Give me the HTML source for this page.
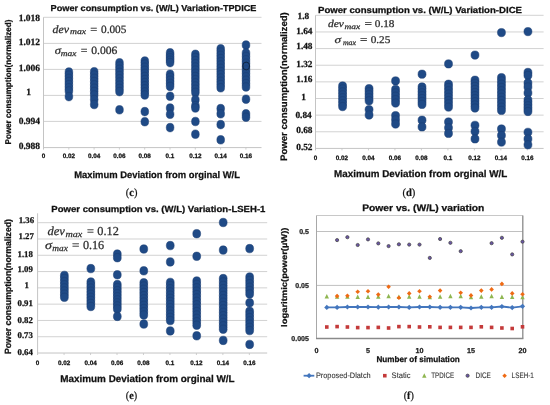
<!DOCTYPE html>
<html><head><meta charset="utf-8"><title>Power consumption charts</title>
<style>html,body{margin:0;padding:0;background:#fff;width:550px;height:405px;overflow:hidden}svg{display:block;filter:blur(0.3px)}text{text-rendering:geometricPrecision}</style>
</head><body>
<svg width="550" height="405" viewBox="0 0 550 405">
<rect width="550" height="405" fill="#ffffff"/>
<line x1="43.50" y1="17.30" x2="261.50" y2="17.30" stroke="#d2d2d2" stroke-width="1"/>
<line x1="43.50" y1="43.40" x2="261.50" y2="43.40" stroke="#d2d2d2" stroke-width="1"/>
<line x1="43.50" y1="69.40" x2="261.50" y2="69.40" stroke="#d2d2d2" stroke-width="1"/>
<line x1="43.50" y1="95.40" x2="261.50" y2="95.40" stroke="#d2d2d2" stroke-width="1"/>
<line x1="43.50" y1="121.40" x2="261.50" y2="121.40" stroke="#d2d2d2" stroke-width="1"/>
<line x1="43.50" y1="147.60" x2="261.50" y2="147.60" stroke="#c4c4c4" stroke-width="1"/>
<line x1="43.50" y1="17.30" x2="43.50" y2="149.60" stroke="#c4c4c4" stroke-width="1"/>
<text x="29.40" y="20.90" font-size="9.5" font-family="'Liberation Serif', serif" fill="#111" stroke="#111" stroke-width="0.25" font-weight="bold" text-anchor="middle">1.018</text>
<text x="29.40" y="45.40" font-size="9.5" font-family="'Liberation Serif', serif" fill="#111" stroke="#111" stroke-width="0.25" font-weight="bold" text-anchor="middle">1.012</text>
<text x="29.40" y="70.80" font-size="9.5" font-family="'Liberation Serif', serif" fill="#111" stroke="#111" stroke-width="0.25" font-weight="bold" text-anchor="middle">1.006</text>
<text x="28.50" y="95.20" font-size="9.5" font-family="'Liberation Serif', serif" fill="#111" stroke="#111" stroke-width="0.25" font-weight="bold" text-anchor="middle">1</text>
<text x="29.40" y="123.90" font-size="9.5" font-family="'Liberation Serif', serif" fill="#111" stroke="#111" stroke-width="0.25" font-weight="bold" text-anchor="middle">0.994</text>
<text x="29.40" y="148.80" font-size="9.5" font-family="'Liberation Serif', serif" fill="#111" stroke="#111" stroke-width="0.25" font-weight="bold" text-anchor="middle">0.988</text>
<text x="43.50" y="158.20" font-size="6.3" font-family="'Liberation Sans', sans-serif" fill="#111" stroke="#111" stroke-width="0.25" font-weight="bold" text-anchor="middle">0</text>
<text x="68.80" y="158.20" font-size="6.3" font-family="'Liberation Sans', sans-serif" fill="#111" stroke="#111" stroke-width="0.25" font-weight="bold" text-anchor="middle">0.02</text>
<line x1="68.80" y1="147.60" x2="68.80" y2="149.60" stroke="#c4c4c4" stroke-width="0.8"/>
<text x="94.10" y="158.20" font-size="6.3" font-family="'Liberation Sans', sans-serif" fill="#111" stroke="#111" stroke-width="0.25" font-weight="bold" text-anchor="middle">0.04</text>
<line x1="94.10" y1="147.60" x2="94.10" y2="149.60" stroke="#c4c4c4" stroke-width="0.8"/>
<text x="119.40" y="158.20" font-size="6.3" font-family="'Liberation Sans', sans-serif" fill="#111" stroke="#111" stroke-width="0.25" font-weight="bold" text-anchor="middle">0.06</text>
<line x1="119.40" y1="147.60" x2="119.40" y2="149.60" stroke="#c4c4c4" stroke-width="0.8"/>
<text x="144.70" y="158.20" font-size="6.3" font-family="'Liberation Sans', sans-serif" fill="#111" stroke="#111" stroke-width="0.25" font-weight="bold" text-anchor="middle">0.08</text>
<line x1="144.70" y1="147.60" x2="144.70" y2="149.60" stroke="#c4c4c4" stroke-width="0.8"/>
<text x="170.00" y="158.20" font-size="6.3" font-family="'Liberation Sans', sans-serif" fill="#111" stroke="#111" stroke-width="0.25" font-weight="bold" text-anchor="middle">0.1</text>
<line x1="170.00" y1="147.60" x2="170.00" y2="149.60" stroke="#c4c4c4" stroke-width="0.8"/>
<text x="195.30" y="158.20" font-size="6.3" font-family="'Liberation Sans', sans-serif" fill="#111" stroke="#111" stroke-width="0.25" font-weight="bold" text-anchor="middle">0.12</text>
<line x1="195.30" y1="147.60" x2="195.30" y2="149.60" stroke="#c4c4c4" stroke-width="0.8"/>
<text x="220.60" y="158.20" font-size="6.3" font-family="'Liberation Sans', sans-serif" fill="#111" stroke="#111" stroke-width="0.25" font-weight="bold" text-anchor="middle">0.14</text>
<line x1="220.60" y1="147.60" x2="220.60" y2="149.60" stroke="#c4c4c4" stroke-width="0.8"/>
<text x="245.90" y="158.20" font-size="6.3" font-family="'Liberation Sans', sans-serif" fill="#111" stroke="#111" stroke-width="0.25" font-weight="bold" text-anchor="middle">0.16</text>
<line x1="245.90" y1="147.60" x2="245.90" y2="149.60" stroke="#c4c4c4" stroke-width="0.8"/>
<text x="50.60" y="11.20" font-size="8.6" font-family="'Liberation Sans', sans-serif" fill="#111" stroke="#111" stroke-width="0.25" font-weight="bold" textLength="205.90" lengthAdjust="spacingAndGlyphs">Power consumption vs. (W/L) Variation-TPDICE</text>
<text x="74.20" y="177.80" font-size="9.6" font-family="'Liberation Sans', sans-serif" fill="#111" stroke="#111" stroke-width="0.25" font-weight="bold" textLength="165.80" lengthAdjust="spacingAndGlyphs">Maximum Deviation from orginal W/L</text>
<text x="11.10" y="144.40" font-size="8.4" font-family="'Liberation Sans', sans-serif" fill="#111" stroke="#111" stroke-width="0.25" font-weight="bold" textLength="124.80" lengthAdjust="spacingAndGlyphs" transform="rotate(-90 11.10 144.40)">Power consumption(normalized)</text>
<text x="131.60" y="196.40" font-size="11" font-family="'Liberation Serif', serif" fill="#111" stroke="#111" stroke-width="0.2" text-anchor="middle" textLength="11.60" lengthAdjust="spacingAndGlyphs">(<tspan font-weight="bold">c</tspan>)</text>
<text x="52.50" y="32.60" font-size="11.2" font-family="'Liberation Serif', serif" fill="#2c2c2c" stroke="#2c2c2c" stroke-width="0.25" font-style="italic" textLength="16.50" lengthAdjust="spacingAndGlyphs">dev</text>
<text x="70.00" y="34.40" font-size="8.064" font-family="'Liberation Serif', serif" fill="#2c2c2c" stroke="#2c2c2c" stroke-width="0.25" font-style="italic" textLength="16.00" lengthAdjust="spacingAndGlyphs">max</text>
<text x="90.20" y="32.60" font-size="11.2" font-family="'Liberation Serif', serif" fill="#2c2c2c" stroke="#2c2c2c" stroke-width="0.25" textLength="7.00" lengthAdjust="spacingAndGlyphs">=</text>
<text x="101.00" y="32.60" font-size="11.2" font-family="'Liberation Serif', serif" fill="#2c2c2c" stroke="#2c2c2c" stroke-width="0.25" textLength="25.40" lengthAdjust="spacingAndGlyphs">0.005</text>
<text x="54.70" y="53.80" font-size="11.2" font-family="'Liberation Serif', serif" fill="#2c2c2c" stroke="#2c2c2c" stroke-width="0.25" font-style="italic" textLength="6.20" lengthAdjust="spacingAndGlyphs">σ</text>
<text x="60.70" y="55.60" font-size="8.064" font-family="'Liberation Serif', serif" fill="#2c2c2c" stroke="#2c2c2c" stroke-width="0.25" font-style="italic" textLength="15.70" lengthAdjust="spacingAndGlyphs">max</text>
<text x="80.80" y="53.80" font-size="11.2" font-family="'Liberation Serif', serif" fill="#2c2c2c" stroke="#2c2c2c" stroke-width="0.25" textLength="6.70" lengthAdjust="spacingAndGlyphs">=</text>
<text x="91.30" y="53.80" font-size="11.2" font-family="'Liberation Serif', serif" fill="#2c2c2c" stroke="#2c2c2c" stroke-width="0.25" textLength="26.10" lengthAdjust="spacingAndGlyphs">0.006</text>
<g fill="#1f4a86" stroke="#1a3d70" stroke-width="0.5">
<ellipse cx="68.90" cy="72.00" rx="3.85" ry="4.3"/>
<ellipse cx="68.90" cy="75.17" rx="3.85" ry="4.3"/>
<ellipse cx="68.90" cy="78.33" rx="3.85" ry="4.3"/>
<ellipse cx="68.90" cy="81.50" rx="3.85" ry="4.3"/>
<ellipse cx="68.90" cy="84.67" rx="3.85" ry="4.3"/>
<ellipse cx="68.90" cy="87.83" rx="3.85" ry="4.3"/>
<ellipse cx="68.90" cy="91.00" rx="3.85" ry="4.3"/>
<ellipse cx="68.90" cy="96.60" rx="3.85" ry="4.3"/>
<ellipse cx="94.20" cy="71.70" rx="3.85" ry="4.3"/>
<ellipse cx="94.20" cy="75.00" rx="3.85" ry="4.3"/>
<ellipse cx="94.20" cy="78.30" rx="3.85" ry="4.3"/>
<ellipse cx="94.20" cy="81.60" rx="3.85" ry="4.3"/>
<ellipse cx="94.20" cy="84.90" rx="3.85" ry="4.3"/>
<ellipse cx="94.20" cy="88.20" rx="3.85" ry="4.3"/>
<ellipse cx="94.20" cy="91.50" rx="3.85" ry="4.3"/>
<ellipse cx="94.20" cy="95.00" rx="3.85" ry="4.3"/>
<ellipse cx="94.20" cy="99.60" rx="3.85" ry="4.3"/>
<ellipse cx="94.20" cy="104.50" rx="3.85" ry="4.3"/>
<ellipse cx="119.50" cy="62.80" rx="3.85" ry="4.3"/>
<ellipse cx="119.50" cy="66.00" rx="3.85" ry="4.3"/>
<ellipse cx="119.50" cy="69.20" rx="3.85" ry="4.3"/>
<ellipse cx="119.50" cy="72.40" rx="3.85" ry="4.3"/>
<ellipse cx="119.50" cy="75.60" rx="3.85" ry="4.3"/>
<ellipse cx="119.50" cy="78.80" rx="3.85" ry="4.3"/>
<ellipse cx="119.50" cy="82.00" rx="3.85" ry="4.3"/>
<ellipse cx="119.50" cy="85.20" rx="3.85" ry="4.3"/>
<ellipse cx="119.50" cy="88.40" rx="3.85" ry="4.3"/>
<ellipse cx="119.50" cy="91.60" rx="3.85" ry="4.3"/>
<ellipse cx="119.50" cy="109.80" rx="3.85" ry="4.3"/>
<ellipse cx="144.80" cy="61.00" rx="3.85" ry="4.3"/>
<ellipse cx="144.80" cy="64.10" rx="3.85" ry="4.3"/>
<ellipse cx="144.80" cy="67.20" rx="3.85" ry="4.3"/>
<ellipse cx="144.80" cy="70.30" rx="3.85" ry="4.3"/>
<ellipse cx="144.80" cy="73.40" rx="3.85" ry="4.3"/>
<ellipse cx="144.80" cy="76.50" rx="3.85" ry="4.3"/>
<ellipse cx="144.80" cy="79.60" rx="3.85" ry="4.3"/>
<ellipse cx="144.80" cy="82.70" rx="3.85" ry="4.3"/>
<ellipse cx="144.80" cy="85.80" rx="3.85" ry="4.3"/>
<ellipse cx="144.80" cy="88.90" rx="3.85" ry="4.3"/>
<ellipse cx="144.80" cy="92.00" rx="3.85" ry="4.3"/>
<ellipse cx="144.80" cy="95.00" rx="3.85" ry="4.3"/>
<ellipse cx="144.80" cy="111.60" rx="3.85" ry="4.3"/>
<ellipse cx="144.80" cy="121.70" rx="3.85" ry="4.3"/>
<ellipse cx="170.10" cy="52.80" rx="3.85" ry="4.3"/>
<ellipse cx="170.10" cy="55.50" rx="3.85" ry="4.3"/>
<ellipse cx="170.10" cy="57.87" rx="3.85" ry="4.3"/>
<ellipse cx="170.10" cy="60.23" rx="3.85" ry="4.3"/>
<ellipse cx="170.10" cy="62.60" rx="3.85" ry="4.3"/>
<ellipse cx="170.10" cy="74.20" rx="3.85" ry="4.3"/>
<ellipse cx="170.10" cy="77.25" rx="3.85" ry="4.3"/>
<ellipse cx="170.10" cy="80.30" rx="3.85" ry="4.3"/>
<ellipse cx="170.10" cy="83.35" rx="3.85" ry="4.3"/>
<ellipse cx="170.10" cy="86.40" rx="3.85" ry="4.3"/>
<ellipse cx="170.10" cy="96.30" rx="3.85" ry="4.3"/>
<ellipse cx="170.10" cy="108.00" rx="3.85" ry="4.3"/>
<ellipse cx="170.10" cy="114.30" rx="3.85" ry="4.3"/>
<ellipse cx="170.10" cy="127.60" rx="3.85" ry="4.3"/>
<ellipse cx="195.40" cy="54.30" rx="3.85" ry="4.3"/>
<ellipse cx="195.40" cy="57.47" rx="3.85" ry="4.3"/>
<ellipse cx="195.40" cy="60.65" rx="3.85" ry="4.3"/>
<ellipse cx="195.40" cy="63.83" rx="3.85" ry="4.3"/>
<ellipse cx="195.40" cy="67.00" rx="3.85" ry="4.3"/>
<ellipse cx="195.40" cy="70.17" rx="3.85" ry="4.3"/>
<ellipse cx="195.40" cy="73.35" rx="3.85" ry="4.3"/>
<ellipse cx="195.40" cy="76.53" rx="3.85" ry="4.3"/>
<ellipse cx="195.40" cy="79.70" rx="3.85" ry="4.3"/>
<ellipse cx="195.40" cy="82.88" rx="3.85" ry="4.3"/>
<ellipse cx="195.40" cy="86.05" rx="3.85" ry="4.3"/>
<ellipse cx="195.40" cy="89.22" rx="3.85" ry="4.3"/>
<ellipse cx="195.40" cy="92.40" rx="3.85" ry="4.3"/>
<ellipse cx="195.40" cy="99.70" rx="3.85" ry="4.3"/>
<ellipse cx="195.40" cy="105.70" rx="3.85" ry="4.3"/>
<ellipse cx="195.40" cy="108.00" rx="3.85" ry="4.3"/>
<ellipse cx="195.40" cy="121.50" rx="3.85" ry="4.3"/>
<ellipse cx="195.40" cy="134.20" rx="3.85" ry="4.3"/>
<ellipse cx="220.70" cy="48.80" rx="3.85" ry="4.3"/>
<ellipse cx="220.70" cy="52.05" rx="3.85" ry="4.3"/>
<ellipse cx="220.70" cy="55.30" rx="3.85" ry="4.3"/>
<ellipse cx="220.70" cy="58.55" rx="3.85" ry="4.3"/>
<ellipse cx="220.70" cy="61.80" rx="3.85" ry="4.3"/>
<ellipse cx="220.70" cy="65.05" rx="3.85" ry="4.3"/>
<ellipse cx="220.70" cy="68.30" rx="3.85" ry="4.3"/>
<ellipse cx="220.70" cy="71.55" rx="3.85" ry="4.3"/>
<ellipse cx="220.70" cy="74.80" rx="3.85" ry="4.3"/>
<ellipse cx="220.70" cy="78.05" rx="3.85" ry="4.3"/>
<ellipse cx="220.70" cy="81.30" rx="3.85" ry="4.3"/>
<ellipse cx="220.70" cy="84.55" rx="3.85" ry="4.3"/>
<ellipse cx="220.70" cy="87.80" rx="3.85" ry="4.3"/>
<ellipse cx="220.70" cy="108.60" rx="3.85" ry="4.3"/>
<ellipse cx="220.70" cy="113.80" rx="3.85" ry="4.3"/>
<ellipse cx="220.70" cy="124.60" rx="3.85" ry="4.3"/>
<ellipse cx="220.70" cy="139.80" rx="3.85" ry="4.3"/>
<ellipse cx="246.00" cy="45.00" rx="3.85" ry="4.3"/>
<ellipse cx="246.00" cy="53.00" rx="3.85" ry="4.3"/>
<ellipse cx="246.00" cy="56.40" rx="3.85" ry="4.3"/>
<ellipse cx="246.00" cy="59.80" rx="3.85" ry="4.3"/>
<ellipse cx="246.00" cy="63.20" rx="3.85" ry="4.3"/>
<ellipse cx="246.00" cy="66.60" rx="3.85" ry="4.3"/>
<ellipse cx="246.00" cy="70.00" rx="3.85" ry="4.3"/>
<ellipse cx="246.00" cy="73.40" rx="3.85" ry="4.3"/>
<ellipse cx="246.00" cy="76.80" rx="3.85" ry="4.3"/>
<ellipse cx="246.00" cy="80.20" rx="3.85" ry="4.3"/>
<ellipse cx="246.00" cy="83.60" rx="3.85" ry="4.3"/>
<ellipse cx="246.00" cy="87.00" rx="3.85" ry="4.3"/>
<ellipse cx="246.00" cy="99.20" rx="3.85" ry="4.3"/>
<ellipse cx="246.00" cy="113.80" rx="3.85" ry="4.3"/>
<ellipse cx="246.00" cy="117.20" rx="3.85" ry="4.3"/>
</g>
<ellipse cx="246.2" cy="66.0" rx="3.4" ry="3.9" fill="none" stroke="#10243c" stroke-width="0.9"/>
<line x1="315.50" y1="15.30" x2="543.60" y2="15.30" stroke="#d2d2d2" stroke-width="1"/>
<line x1="315.50" y1="31.94" x2="543.60" y2="31.94" stroke="#d2d2d2" stroke-width="1"/>
<line x1="315.50" y1="48.58" x2="543.60" y2="48.58" stroke="#d2d2d2" stroke-width="1"/>
<line x1="315.50" y1="65.22" x2="543.60" y2="65.22" stroke="#d2d2d2" stroke-width="1"/>
<line x1="315.50" y1="81.86" x2="543.60" y2="81.86" stroke="#d2d2d2" stroke-width="1"/>
<line x1="315.50" y1="98.50" x2="543.60" y2="98.50" stroke="#d2d2d2" stroke-width="1"/>
<line x1="315.50" y1="115.14" x2="543.60" y2="115.14" stroke="#d2d2d2" stroke-width="1"/>
<line x1="315.50" y1="131.78" x2="543.60" y2="131.78" stroke="#d2d2d2" stroke-width="1"/>
<line x1="315.50" y1="148.42" x2="543.60" y2="148.42" stroke="#c4c4c4" stroke-width="1"/>
<line x1="315.50" y1="15.30" x2="315.50" y2="150.42" stroke="#c4c4c4" stroke-width="1"/>
<text x="303.40" y="19.10" font-size="9.3" font-family="'Liberation Serif', serif" fill="#111" stroke="#111" stroke-width="0.25" font-weight="bold" text-anchor="middle">1.8</text>
<text x="304.40" y="33.84" font-size="9.3" font-family="'Liberation Serif', serif" fill="#111" stroke="#111" stroke-width="0.25" font-weight="bold" text-anchor="middle">1.64</text>
<text x="304.40" y="49.18" font-size="9.3" font-family="'Liberation Serif', serif" fill="#111" stroke="#111" stroke-width="0.25" font-weight="bold" text-anchor="middle">1.48</text>
<text x="304.40" y="66.52" font-size="9.3" font-family="'Liberation Serif', serif" fill="#111" stroke="#111" stroke-width="0.25" font-weight="bold" text-anchor="middle">1.32</text>
<text x="304.40" y="82.26" font-size="9.3" font-family="'Liberation Serif', serif" fill="#111" stroke="#111" stroke-width="0.25" font-weight="bold" text-anchor="middle">1.16</text>
<text x="303.50" y="100.20" font-size="9.3" font-family="'Liberation Serif', serif" fill="#111" stroke="#111" stroke-width="0.25" font-weight="bold" text-anchor="middle">1</text>
<text x="303.60" y="118.34" font-size="9.3" font-family="'Liberation Serif', serif" fill="#111" stroke="#111" stroke-width="0.25" font-weight="bold" text-anchor="middle">0.84</text>
<text x="304.40" y="133.08" font-size="9.3" font-family="'Liberation Serif', serif" fill="#111" stroke="#111" stroke-width="0.25" font-weight="bold" text-anchor="middle">0.68</text>
<text x="304.40" y="150.22" font-size="9.3" font-family="'Liberation Serif', serif" fill="#111" stroke="#111" stroke-width="0.25" font-weight="bold" text-anchor="middle">0.52</text>
<text x="315.50" y="160.30" font-size="6.3" font-family="'Liberation Sans', sans-serif" fill="#111" stroke="#111" stroke-width="0.25" font-weight="bold" text-anchor="middle">0</text>
<text x="341.98" y="160.30" font-size="6.3" font-family="'Liberation Sans', sans-serif" fill="#111" stroke="#111" stroke-width="0.25" font-weight="bold" text-anchor="middle">0.02</text>
<line x1="341.98" y1="148.42" x2="341.98" y2="150.42" stroke="#c4c4c4" stroke-width="0.8"/>
<text x="368.46" y="160.30" font-size="6.3" font-family="'Liberation Sans', sans-serif" fill="#111" stroke="#111" stroke-width="0.25" font-weight="bold" text-anchor="middle">0.04</text>
<line x1="368.46" y1="148.42" x2="368.46" y2="150.42" stroke="#c4c4c4" stroke-width="0.8"/>
<text x="394.94" y="160.30" font-size="6.3" font-family="'Liberation Sans', sans-serif" fill="#111" stroke="#111" stroke-width="0.25" font-weight="bold" text-anchor="middle">0.06</text>
<line x1="394.94" y1="148.42" x2="394.94" y2="150.42" stroke="#c4c4c4" stroke-width="0.8"/>
<text x="421.42" y="160.30" font-size="6.3" font-family="'Liberation Sans', sans-serif" fill="#111" stroke="#111" stroke-width="0.25" font-weight="bold" text-anchor="middle">0.08</text>
<line x1="421.42" y1="148.42" x2="421.42" y2="150.42" stroke="#c4c4c4" stroke-width="0.8"/>
<text x="447.90" y="160.30" font-size="6.3" font-family="'Liberation Sans', sans-serif" fill="#111" stroke="#111" stroke-width="0.25" font-weight="bold" text-anchor="middle">0.1</text>
<line x1="447.90" y1="148.42" x2="447.90" y2="150.42" stroke="#c4c4c4" stroke-width="0.8"/>
<text x="474.38" y="160.30" font-size="6.3" font-family="'Liberation Sans', sans-serif" fill="#111" stroke="#111" stroke-width="0.25" font-weight="bold" text-anchor="middle">0.12</text>
<line x1="474.38" y1="148.42" x2="474.38" y2="150.42" stroke="#c4c4c4" stroke-width="0.8"/>
<text x="500.86" y="160.30" font-size="6.3" font-family="'Liberation Sans', sans-serif" fill="#111" stroke="#111" stroke-width="0.25" font-weight="bold" text-anchor="middle">0.14</text>
<line x1="500.86" y1="148.42" x2="500.86" y2="150.42" stroke="#c4c4c4" stroke-width="0.8"/>
<text x="527.34" y="160.30" font-size="6.3" font-family="'Liberation Sans', sans-serif" fill="#111" stroke="#111" stroke-width="0.25" font-weight="bold" text-anchor="middle">0.16</text>
<line x1="527.34" y1="148.42" x2="527.34" y2="150.42" stroke="#c4c4c4" stroke-width="0.8"/>
<text x="318.00" y="13.00" font-size="8.8" font-family="'Liberation Sans', sans-serif" fill="#111" stroke="#111" stroke-width="0.25" font-weight="bold" textLength="204.00" lengthAdjust="spacingAndGlyphs">Power consumption vs. (W/L) Variation-DICE</text>
<text x="334.10" y="176.70" font-size="9.8" font-family="'Liberation Sans', sans-serif" fill="#111" stroke="#111" stroke-width="0.25" font-weight="bold" textLength="173.10" lengthAdjust="spacingAndGlyphs">Maximum Deviation from orginal W/L</text>
<text x="286.70" y="161.00" font-size="9.4" font-family="'Liberation Sans', sans-serif" fill="#111" stroke="#111" stroke-width="0.25" font-weight="bold" textLength="148.80" lengthAdjust="spacingAndGlyphs" transform="rotate(-90 286.70 161.00)">Power consumption(normalized)</text>
<text x="408.90" y="196.10" font-size="11" font-family="'Liberation Serif', serif" fill="#111" stroke="#111" stroke-width="0.2" text-anchor="middle" textLength="13.00" lengthAdjust="spacingAndGlyphs">(<tspan font-weight="bold">d</tspan>)</text>
<text x="327.90" y="27.10" font-size="10.3" font-family="'Liberation Serif', serif" fill="#2c2c2c" stroke="#2c2c2c" stroke-width="0.25" font-style="italic" textLength="16.00" lengthAdjust="spacingAndGlyphs">dev</text>
<text x="344.50" y="28.70" font-size="7.416" font-family="'Liberation Serif', serif" fill="#2c2c2c" stroke="#2c2c2c" stroke-width="0.25" font-style="italic" textLength="15.60" lengthAdjust="spacingAndGlyphs">max</text>
<text x="364.50" y="27.10" font-size="10.3" font-family="'Liberation Serif', serif" fill="#2c2c2c" stroke="#2c2c2c" stroke-width="0.25" textLength="7.50" lengthAdjust="spacingAndGlyphs">=</text>
<text x="374.80" y="27.10" font-size="10.3" font-family="'Liberation Serif', serif" fill="#2c2c2c" stroke="#2c2c2c" stroke-width="0.25" textLength="19.70" lengthAdjust="spacingAndGlyphs">0.18</text>
<text x="334.40" y="42.80" font-size="10.3" font-family="'Liberation Serif', serif" fill="#2c2c2c" stroke="#2c2c2c" stroke-width="0.25" font-style="italic" textLength="6.50" lengthAdjust="spacingAndGlyphs">σ</text>
<text x="342.90" y="44.50" font-size="7.416" font-family="'Liberation Serif', serif" fill="#2c2c2c" stroke="#2c2c2c" stroke-width="0.25" font-style="italic" textLength="13.10" lengthAdjust="spacingAndGlyphs">max</text>
<text x="360.10" y="42.80" font-size="10.3" font-family="'Liberation Serif', serif" fill="#2c2c2c" stroke="#2c2c2c" stroke-width="0.25" textLength="7.40" lengthAdjust="spacingAndGlyphs">=</text>
<text x="370.70" y="42.80" font-size="10.3" font-family="'Liberation Serif', serif" fill="#2c2c2c" stroke="#2c2c2c" stroke-width="0.25" textLength="19.70" lengthAdjust="spacingAndGlyphs">0.25</text>
<g fill="#1f4a86" stroke="#1a3d70" stroke-width="0.5">
<ellipse cx="342.58" cy="86.00" rx="4.0" ry="4.15"/>
<ellipse cx="342.58" cy="88.94" rx="4.0" ry="4.15"/>
<ellipse cx="342.58" cy="91.89" rx="4.0" ry="4.15"/>
<ellipse cx="342.58" cy="94.83" rx="4.0" ry="4.15"/>
<ellipse cx="342.58" cy="97.77" rx="4.0" ry="4.15"/>
<ellipse cx="342.58" cy="100.71" rx="4.0" ry="4.15"/>
<ellipse cx="342.58" cy="103.66" rx="4.0" ry="4.15"/>
<ellipse cx="342.58" cy="106.60" rx="4.0" ry="4.15"/>
<ellipse cx="369.06" cy="88.60" rx="4.0" ry="4.15"/>
<ellipse cx="369.06" cy="91.65" rx="4.0" ry="4.15"/>
<ellipse cx="369.06" cy="94.70" rx="4.0" ry="4.15"/>
<ellipse cx="369.06" cy="97.75" rx="4.0" ry="4.15"/>
<ellipse cx="369.06" cy="100.80" rx="4.0" ry="4.15"/>
<ellipse cx="369.06" cy="109.60" rx="4.0" ry="4.15"/>
<ellipse cx="369.06" cy="115.00" rx="4.0" ry="4.15"/>
<ellipse cx="395.54" cy="80.90" rx="4.0" ry="4.15"/>
<ellipse cx="395.54" cy="89.40" rx="4.0" ry="4.15"/>
<ellipse cx="395.54" cy="92.80" rx="4.0" ry="4.15"/>
<ellipse cx="395.54" cy="96.20" rx="4.0" ry="4.15"/>
<ellipse cx="395.54" cy="99.60" rx="4.0" ry="4.15"/>
<ellipse cx="395.54" cy="103.00" rx="4.0" ry="4.15"/>
<ellipse cx="395.54" cy="115.60" rx="4.0" ry="4.15"/>
<ellipse cx="395.54" cy="119.80" rx="4.0" ry="4.15"/>
<ellipse cx="395.54" cy="124.00" rx="4.0" ry="4.15"/>
<ellipse cx="422.02" cy="74.20" rx="4.0" ry="4.15"/>
<ellipse cx="422.02" cy="87.00" rx="4.0" ry="4.15"/>
<ellipse cx="422.02" cy="89.90" rx="4.0" ry="4.15"/>
<ellipse cx="422.02" cy="92.80" rx="4.0" ry="4.15"/>
<ellipse cx="422.02" cy="95.70" rx="4.0" ry="4.15"/>
<ellipse cx="422.02" cy="98.60" rx="4.0" ry="4.15"/>
<ellipse cx="422.02" cy="101.50" rx="4.0" ry="4.15"/>
<ellipse cx="422.02" cy="104.40" rx="4.0" ry="4.15"/>
<ellipse cx="422.02" cy="120.20" rx="4.0" ry="4.15"/>
<ellipse cx="422.02" cy="126.90" rx="4.0" ry="4.15"/>
<ellipse cx="448.50" cy="63.90" rx="4.0" ry="4.15"/>
<ellipse cx="448.50" cy="84.20" rx="4.0" ry="4.15"/>
<ellipse cx="448.50" cy="87.47" rx="4.0" ry="4.15"/>
<ellipse cx="448.50" cy="90.74" rx="4.0" ry="4.15"/>
<ellipse cx="448.50" cy="94.01" rx="4.0" ry="4.15"/>
<ellipse cx="448.50" cy="97.29" rx="4.0" ry="4.15"/>
<ellipse cx="448.50" cy="100.56" rx="4.0" ry="4.15"/>
<ellipse cx="448.50" cy="103.83" rx="4.0" ry="4.15"/>
<ellipse cx="448.50" cy="107.10" rx="4.0" ry="4.15"/>
<ellipse cx="448.50" cy="122.00" rx="4.0" ry="4.15"/>
<ellipse cx="448.50" cy="127.80" rx="4.0" ry="4.15"/>
<ellipse cx="448.50" cy="133.40" rx="4.0" ry="4.15"/>
<ellipse cx="474.98" cy="55.10" rx="4.0" ry="4.15"/>
<ellipse cx="474.98" cy="80.20" rx="4.0" ry="4.15"/>
<ellipse cx="474.98" cy="83.29" rx="4.0" ry="4.15"/>
<ellipse cx="474.98" cy="86.38" rx="4.0" ry="4.15"/>
<ellipse cx="474.98" cy="89.47" rx="4.0" ry="4.15"/>
<ellipse cx="474.98" cy="92.56" rx="4.0" ry="4.15"/>
<ellipse cx="474.98" cy="95.64" rx="4.0" ry="4.15"/>
<ellipse cx="474.98" cy="98.73" rx="4.0" ry="4.15"/>
<ellipse cx="474.98" cy="101.82" rx="4.0" ry="4.15"/>
<ellipse cx="474.98" cy="104.91" rx="4.0" ry="4.15"/>
<ellipse cx="474.98" cy="108.00" rx="4.0" ry="4.15"/>
<ellipse cx="474.98" cy="125.30" rx="4.0" ry="4.15"/>
<ellipse cx="474.98" cy="131.40" rx="4.0" ry="4.15"/>
<ellipse cx="474.98" cy="138.90" rx="4.0" ry="4.15"/>
<ellipse cx="501.46" cy="32.60" rx="4.0" ry="4.15"/>
<ellipse cx="501.46" cy="77.60" rx="4.0" ry="4.15"/>
<ellipse cx="501.46" cy="80.88" rx="4.0" ry="4.15"/>
<ellipse cx="501.46" cy="84.16" rx="4.0" ry="4.15"/>
<ellipse cx="501.46" cy="87.44" rx="4.0" ry="4.15"/>
<ellipse cx="501.46" cy="90.72" rx="4.0" ry="4.15"/>
<ellipse cx="501.46" cy="94.00" rx="4.0" ry="4.15"/>
<ellipse cx="501.46" cy="97.28" rx="4.0" ry="4.15"/>
<ellipse cx="501.46" cy="100.56" rx="4.0" ry="4.15"/>
<ellipse cx="501.46" cy="103.84" rx="4.0" ry="4.15"/>
<ellipse cx="501.46" cy="107.12" rx="4.0" ry="4.15"/>
<ellipse cx="501.46" cy="110.40" rx="4.0" ry="4.15"/>
<ellipse cx="501.46" cy="129.00" rx="4.0" ry="4.15"/>
<ellipse cx="501.46" cy="135.50" rx="4.0" ry="4.15"/>
<ellipse cx="501.46" cy="142.10" rx="4.0" ry="4.15"/>
<ellipse cx="527.94" cy="31.60" rx="4.0" ry="4.15"/>
<ellipse cx="527.94" cy="72.40" rx="4.0" ry="4.15"/>
<ellipse cx="527.94" cy="75.40" rx="4.0" ry="4.15"/>
<ellipse cx="527.94" cy="83.00" rx="4.0" ry="4.15"/>
<ellipse cx="527.94" cy="87.00" rx="4.0" ry="4.15"/>
<ellipse cx="527.94" cy="93.00" rx="4.0" ry="4.15"/>
<ellipse cx="527.94" cy="100.00" rx="4.0" ry="4.15"/>
<ellipse cx="527.94" cy="102.88" rx="4.0" ry="4.15"/>
<ellipse cx="527.94" cy="105.75" rx="4.0" ry="4.15"/>
<ellipse cx="527.94" cy="108.62" rx="4.0" ry="4.15"/>
<ellipse cx="527.94" cy="111.50" rx="4.0" ry="4.15"/>
<ellipse cx="527.94" cy="132.30" rx="4.0" ry="4.15"/>
<ellipse cx="527.94" cy="139.00" rx="4.0" ry="4.15"/>
<ellipse cx="527.94" cy="144.80" rx="4.0" ry="4.15"/>
</g>
<line x1="37.60" y1="222.70" x2="267.20" y2="222.70" stroke="#d2d2d2" stroke-width="1"/>
<line x1="37.60" y1="238.99" x2="267.20" y2="238.99" stroke="#d2d2d2" stroke-width="1"/>
<line x1="37.60" y1="255.28" x2="267.20" y2="255.28" stroke="#d2d2d2" stroke-width="1"/>
<line x1="37.60" y1="271.57" x2="267.20" y2="271.57" stroke="#d2d2d2" stroke-width="1"/>
<line x1="37.60" y1="287.86" x2="267.20" y2="287.86" stroke="#d2d2d2" stroke-width="1"/>
<line x1="37.60" y1="304.15" x2="267.20" y2="304.15" stroke="#d2d2d2" stroke-width="1"/>
<line x1="37.60" y1="320.44" x2="267.20" y2="320.44" stroke="#d2d2d2" stroke-width="1"/>
<line x1="37.60" y1="336.73" x2="267.20" y2="336.73" stroke="#d2d2d2" stroke-width="1"/>
<line x1="37.60" y1="353.02" x2="267.20" y2="353.02" stroke="#c4c4c4" stroke-width="1"/>
<line x1="37.60" y1="213.30" x2="37.60" y2="355.02" stroke="#c4c4c4" stroke-width="1"/>
<text x="26.40" y="223.30" font-size="8.8" font-family="'Liberation Serif', serif" fill="#111" stroke="#111" stroke-width="0.25" font-weight="bold" text-anchor="middle">1.36</text>
<text x="26.20" y="239.39" font-size="8.8" font-family="'Liberation Serif', serif" fill="#111" stroke="#111" stroke-width="0.25" font-weight="bold" text-anchor="middle">1.27</text>
<text x="25.20" y="256.98" font-size="8.8" font-family="'Liberation Serif', serif" fill="#111" stroke="#111" stroke-width="0.25" font-weight="bold" text-anchor="middle">1.18</text>
<text x="25.20" y="272.27" font-size="8.8" font-family="'Liberation Serif', serif" fill="#111" stroke="#111" stroke-width="0.25" font-weight="bold" text-anchor="middle">1.09</text>
<text x="26.80" y="288.36" font-size="8.8" font-family="'Liberation Serif', serif" fill="#111" stroke="#111" stroke-width="0.25" font-weight="bold" text-anchor="middle">1</text>
<text x="25.20" y="305.75" font-size="8.8" font-family="'Liberation Serif', serif" fill="#111" stroke="#111" stroke-width="0.25" font-weight="bold" text-anchor="middle">0.91</text>
<text x="25.20" y="322.64" font-size="8.8" font-family="'Liberation Serif', serif" fill="#111" stroke="#111" stroke-width="0.25" font-weight="bold" text-anchor="middle">0.82</text>
<text x="25.20" y="338.33" font-size="8.8" font-family="'Liberation Serif', serif" fill="#111" stroke="#111" stroke-width="0.25" font-weight="bold" text-anchor="middle">0.73</text>
<text x="25.20" y="354.62" font-size="8.8" font-family="'Liberation Serif', serif" fill="#111" stroke="#111" stroke-width="0.25" font-weight="bold" text-anchor="middle">0.64</text>
<text x="37.60" y="365.30" font-size="6.3" font-family="'Liberation Sans', sans-serif" fill="#111" stroke="#111" stroke-width="0.25" font-weight="bold" text-anchor="middle">0</text>
<text x="64.07" y="365.30" font-size="6.3" font-family="'Liberation Sans', sans-serif" fill="#111" stroke="#111" stroke-width="0.25" font-weight="bold" text-anchor="middle">0.02</text>
<line x1="64.07" y1="353.02" x2="64.07" y2="355.02" stroke="#c4c4c4" stroke-width="0.8"/>
<text x="90.54" y="365.30" font-size="6.3" font-family="'Liberation Sans', sans-serif" fill="#111" stroke="#111" stroke-width="0.25" font-weight="bold" text-anchor="middle">0.04</text>
<line x1="90.54" y1="353.02" x2="90.54" y2="355.02" stroke="#c4c4c4" stroke-width="0.8"/>
<text x="117.01" y="365.30" font-size="6.3" font-family="'Liberation Sans', sans-serif" fill="#111" stroke="#111" stroke-width="0.25" font-weight="bold" text-anchor="middle">0.06</text>
<line x1="117.01" y1="353.02" x2="117.01" y2="355.02" stroke="#c4c4c4" stroke-width="0.8"/>
<text x="143.48" y="365.30" font-size="6.3" font-family="'Liberation Sans', sans-serif" fill="#111" stroke="#111" stroke-width="0.25" font-weight="bold" text-anchor="middle">0.08</text>
<line x1="143.48" y1="353.02" x2="143.48" y2="355.02" stroke="#c4c4c4" stroke-width="0.8"/>
<text x="169.95" y="365.30" font-size="6.3" font-family="'Liberation Sans', sans-serif" fill="#111" stroke="#111" stroke-width="0.25" font-weight="bold" text-anchor="middle">0.1</text>
<line x1="169.95" y1="353.02" x2="169.95" y2="355.02" stroke="#c4c4c4" stroke-width="0.8"/>
<text x="196.42" y="365.30" font-size="6.3" font-family="'Liberation Sans', sans-serif" fill="#111" stroke="#111" stroke-width="0.25" font-weight="bold" text-anchor="middle">0.12</text>
<line x1="196.42" y1="353.02" x2="196.42" y2="355.02" stroke="#c4c4c4" stroke-width="0.8"/>
<text x="222.89" y="365.30" font-size="6.3" font-family="'Liberation Sans', sans-serif" fill="#111" stroke="#111" stroke-width="0.25" font-weight="bold" text-anchor="middle">0.14</text>
<line x1="222.89" y1="353.02" x2="222.89" y2="355.02" stroke="#c4c4c4" stroke-width="0.8"/>
<text x="249.36" y="365.30" font-size="6.3" font-family="'Liberation Sans', sans-serif" fill="#111" stroke="#111" stroke-width="0.25" font-weight="bold" text-anchor="middle">0.16</text>
<line x1="249.36" y1="353.02" x2="249.36" y2="355.02" stroke="#c4c4c4" stroke-width="0.8"/>
<text x="51.30" y="211.90" font-size="8.8" font-family="'Liberation Sans', sans-serif" fill="#111" stroke="#111" stroke-width="0.25" font-weight="bold" textLength="214.10" lengthAdjust="spacingAndGlyphs">Power consumption vs. (W/L) Variation-LSEH-1</text>
<text x="60.20" y="382.00" font-size="9.8" font-family="'Liberation Sans', sans-serif" fill="#111" stroke="#111" stroke-width="0.25" font-weight="bold" textLength="174.50" lengthAdjust="spacingAndGlyphs">Maximum Deviation from orginal W/L</text>
<text x="10.60" y="354.00" font-size="9.0" font-family="'Liberation Sans', sans-serif" fill="#111" stroke="#111" stroke-width="0.25" font-weight="bold" textLength="135.00" lengthAdjust="spacingAndGlyphs" transform="rotate(-90 10.60 354.00)">Power consumption(normalized)</text>
<text x="131.50" y="399.10" font-size="11" font-family="'Liberation Serif', serif" fill="#111" stroke="#111" stroke-width="0.2" text-anchor="middle" textLength="11.40" lengthAdjust="spacingAndGlyphs">(<tspan font-weight="bold">e</tspan>)</text>
<text x="47.40" y="234.70" font-size="12.2" font-family="'Liberation Serif', serif" fill="#2c2c2c" stroke="#2c2c2c" stroke-width="0.25" font-style="italic" textLength="17.50" lengthAdjust="spacingAndGlyphs">dev</text>
<text x="65.40" y="236.80" font-size="8.783999999999999" font-family="'Liberation Serif', serif" fill="#2c2c2c" stroke="#2c2c2c" stroke-width="0.25" font-style="italic" textLength="16.80" lengthAdjust="spacingAndGlyphs">max</text>
<text x="87.10" y="234.70" font-size="12.2" font-family="'Liberation Serif', serif" fill="#2c2c2c" stroke="#2c2c2c" stroke-width="0.25" textLength="6.90" lengthAdjust="spacingAndGlyphs">=</text>
<text x="97.30" y="234.70" font-size="12.2" font-family="'Liberation Serif', serif" fill="#2c2c2c" stroke="#2c2c2c" stroke-width="0.25" textLength="21.60" lengthAdjust="spacingAndGlyphs">0.12</text>
<text x="44.90" y="249.40" font-size="12.2" font-family="'Liberation Serif', serif" fill="#2c2c2c" stroke="#2c2c2c" stroke-width="0.25" font-style="italic" textLength="7.00" lengthAdjust="spacingAndGlyphs">σ</text>
<text x="52.30" y="251.40" font-size="8.783999999999999" font-family="'Liberation Serif', serif" fill="#2c2c2c" stroke="#2c2c2c" stroke-width="0.25" font-style="italic" textLength="15.50" lengthAdjust="spacingAndGlyphs">max</text>
<text x="71.90" y="249.40" font-size="12.2" font-family="'Liberation Serif', serif" fill="#2c2c2c" stroke="#2c2c2c" stroke-width="0.25" textLength="7.40" lengthAdjust="spacingAndGlyphs">=</text>
<text x="82.90" y="249.40" font-size="12.2" font-family="'Liberation Serif', serif" fill="#2c2c2c" stroke="#2c2c2c" stroke-width="0.25" textLength="21.30" lengthAdjust="spacingAndGlyphs">0.16</text>
<g fill="#1f4a86" stroke="#1a3d70" stroke-width="0.5">
<ellipse cx="64.37" cy="275.40" rx="3.95" ry="4.25"/>
<ellipse cx="64.37" cy="278.53" rx="3.95" ry="4.25"/>
<ellipse cx="64.37" cy="281.66" rx="3.95" ry="4.25"/>
<ellipse cx="64.37" cy="284.79" rx="3.95" ry="4.25"/>
<ellipse cx="64.37" cy="287.91" rx="3.95" ry="4.25"/>
<ellipse cx="64.37" cy="291.04" rx="3.95" ry="4.25"/>
<ellipse cx="64.37" cy="294.17" rx="3.95" ry="4.25"/>
<ellipse cx="64.37" cy="297.30" rx="3.95" ry="4.25"/>
<ellipse cx="90.84" cy="268.60" rx="3.95" ry="4.25"/>
<ellipse cx="90.84" cy="282.00" rx="3.95" ry="4.25"/>
<ellipse cx="90.84" cy="285.06" rx="3.95" ry="4.25"/>
<ellipse cx="90.84" cy="288.12" rx="3.95" ry="4.25"/>
<ellipse cx="90.84" cy="291.19" rx="3.95" ry="4.25"/>
<ellipse cx="90.84" cy="294.25" rx="3.95" ry="4.25"/>
<ellipse cx="90.84" cy="297.31" rx="3.95" ry="4.25"/>
<ellipse cx="90.84" cy="300.38" rx="3.95" ry="4.25"/>
<ellipse cx="90.84" cy="303.44" rx="3.95" ry="4.25"/>
<ellipse cx="90.84" cy="306.50" rx="3.95" ry="4.25"/>
<ellipse cx="117.31" cy="254.10" rx="3.95" ry="4.25"/>
<ellipse cx="117.31" cy="257.70" rx="3.95" ry="4.25"/>
<ellipse cx="117.31" cy="274.80" rx="3.95" ry="4.25"/>
<ellipse cx="117.31" cy="284.60" rx="3.95" ry="4.25"/>
<ellipse cx="117.31" cy="287.65" rx="3.95" ry="4.25"/>
<ellipse cx="117.31" cy="290.70" rx="3.95" ry="4.25"/>
<ellipse cx="117.31" cy="293.75" rx="3.95" ry="4.25"/>
<ellipse cx="117.31" cy="296.80" rx="3.95" ry="4.25"/>
<ellipse cx="117.31" cy="299.85" rx="3.95" ry="4.25"/>
<ellipse cx="117.31" cy="302.90" rx="3.95" ry="4.25"/>
<ellipse cx="117.31" cy="305.95" rx="3.95" ry="4.25"/>
<ellipse cx="117.31" cy="309.00" rx="3.95" ry="4.25"/>
<ellipse cx="117.31" cy="316.40" rx="3.95" ry="4.25"/>
<ellipse cx="143.78" cy="249.00" rx="3.95" ry="4.25"/>
<ellipse cx="143.78" cy="270.80" rx="3.95" ry="4.25"/>
<ellipse cx="143.78" cy="282.80" rx="3.95" ry="4.25"/>
<ellipse cx="143.78" cy="286.02" rx="3.95" ry="4.25"/>
<ellipse cx="143.78" cy="289.24" rx="3.95" ry="4.25"/>
<ellipse cx="143.78" cy="292.46" rx="3.95" ry="4.25"/>
<ellipse cx="143.78" cy="295.68" rx="3.95" ry="4.25"/>
<ellipse cx="143.78" cy="298.90" rx="3.95" ry="4.25"/>
<ellipse cx="143.78" cy="302.12" rx="3.95" ry="4.25"/>
<ellipse cx="143.78" cy="305.34" rx="3.95" ry="4.25"/>
<ellipse cx="143.78" cy="308.56" rx="3.95" ry="4.25"/>
<ellipse cx="143.78" cy="311.78" rx="3.95" ry="4.25"/>
<ellipse cx="143.78" cy="315.00" rx="3.95" ry="4.25"/>
<ellipse cx="143.78" cy="324.10" rx="3.95" ry="4.25"/>
<ellipse cx="170.25" cy="245.60" rx="3.95" ry="4.25"/>
<ellipse cx="170.25" cy="261.90" rx="3.95" ry="4.25"/>
<ellipse cx="170.25" cy="282.40" rx="3.95" ry="4.25"/>
<ellipse cx="170.25" cy="285.58" rx="3.95" ry="4.25"/>
<ellipse cx="170.25" cy="288.77" rx="3.95" ry="4.25"/>
<ellipse cx="170.25" cy="291.95" rx="3.95" ry="4.25"/>
<ellipse cx="170.25" cy="295.13" rx="3.95" ry="4.25"/>
<ellipse cx="170.25" cy="298.32" rx="3.95" ry="4.25"/>
<ellipse cx="170.25" cy="301.50" rx="3.95" ry="4.25"/>
<ellipse cx="170.25" cy="304.68" rx="3.95" ry="4.25"/>
<ellipse cx="170.25" cy="307.87" rx="3.95" ry="4.25"/>
<ellipse cx="170.25" cy="311.05" rx="3.95" ry="4.25"/>
<ellipse cx="170.25" cy="314.23" rx="3.95" ry="4.25"/>
<ellipse cx="170.25" cy="317.42" rx="3.95" ry="4.25"/>
<ellipse cx="170.25" cy="320.60" rx="3.95" ry="4.25"/>
<ellipse cx="170.25" cy="330.90" rx="3.95" ry="4.25"/>
<ellipse cx="196.72" cy="233.70" rx="3.95" ry="4.25"/>
<ellipse cx="196.72" cy="256.30" rx="3.95" ry="4.25"/>
<ellipse cx="196.72" cy="281.00" rx="3.95" ry="4.25"/>
<ellipse cx="196.72" cy="284.40" rx="3.95" ry="4.25"/>
<ellipse cx="196.72" cy="287.80" rx="3.95" ry="4.25"/>
<ellipse cx="196.72" cy="291.20" rx="3.95" ry="4.25"/>
<ellipse cx="196.72" cy="294.60" rx="3.95" ry="4.25"/>
<ellipse cx="196.72" cy="298.00" rx="3.95" ry="4.25"/>
<ellipse cx="196.72" cy="301.40" rx="3.95" ry="4.25"/>
<ellipse cx="196.72" cy="304.80" rx="3.95" ry="4.25"/>
<ellipse cx="196.72" cy="308.20" rx="3.95" ry="4.25"/>
<ellipse cx="196.72" cy="311.60" rx="3.95" ry="4.25"/>
<ellipse cx="196.72" cy="315.00" rx="3.95" ry="4.25"/>
<ellipse cx="196.72" cy="318.40" rx="3.95" ry="4.25"/>
<ellipse cx="196.72" cy="321.80" rx="3.95" ry="4.25"/>
<ellipse cx="196.72" cy="325.20" rx="3.95" ry="4.25"/>
<ellipse cx="196.72" cy="335.80" rx="3.95" ry="4.25"/>
<ellipse cx="223.19" cy="222.50" rx="3.95" ry="4.25"/>
<ellipse cx="223.19" cy="250.10" rx="3.95" ry="4.25"/>
<ellipse cx="223.19" cy="278.60" rx="3.95" ry="4.25"/>
<ellipse cx="223.19" cy="281.97" rx="3.95" ry="4.25"/>
<ellipse cx="223.19" cy="285.35" rx="3.95" ry="4.25"/>
<ellipse cx="223.19" cy="288.72" rx="3.95" ry="4.25"/>
<ellipse cx="223.19" cy="292.09" rx="3.95" ry="4.25"/>
<ellipse cx="223.19" cy="295.47" rx="3.95" ry="4.25"/>
<ellipse cx="223.19" cy="298.84" rx="3.95" ry="4.25"/>
<ellipse cx="223.19" cy="302.21" rx="3.95" ry="4.25"/>
<ellipse cx="223.19" cy="305.59" rx="3.95" ry="4.25"/>
<ellipse cx="223.19" cy="308.96" rx="3.95" ry="4.25"/>
<ellipse cx="223.19" cy="312.33" rx="3.95" ry="4.25"/>
<ellipse cx="223.19" cy="315.71" rx="3.95" ry="4.25"/>
<ellipse cx="223.19" cy="319.08" rx="3.95" ry="4.25"/>
<ellipse cx="223.19" cy="322.45" rx="3.95" ry="4.25"/>
<ellipse cx="223.19" cy="325.83" rx="3.95" ry="4.25"/>
<ellipse cx="223.19" cy="329.20" rx="3.95" ry="4.25"/>
<ellipse cx="223.19" cy="340.40" rx="3.95" ry="4.25"/>
<ellipse cx="249.66" cy="248.60" rx="3.95" ry="4.25"/>
<ellipse cx="249.66" cy="277.00" rx="3.95" ry="4.25"/>
<ellipse cx="249.66" cy="280.40" rx="3.95" ry="4.25"/>
<ellipse cx="249.66" cy="283.80" rx="3.95" ry="4.25"/>
<ellipse cx="249.66" cy="287.20" rx="3.95" ry="4.25"/>
<ellipse cx="249.66" cy="290.60" rx="3.95" ry="4.25"/>
<ellipse cx="249.66" cy="294.00" rx="3.95" ry="4.25"/>
<ellipse cx="249.66" cy="302.80" rx="3.95" ry="4.25"/>
<ellipse cx="249.66" cy="311.20" rx="3.95" ry="4.25"/>
<ellipse cx="249.66" cy="314.43" rx="3.95" ry="4.25"/>
<ellipse cx="249.66" cy="317.67" rx="3.95" ry="4.25"/>
<ellipse cx="249.66" cy="320.90" rx="3.95" ry="4.25"/>
<ellipse cx="249.66" cy="324.13" rx="3.95" ry="4.25"/>
<ellipse cx="249.66" cy="327.37" rx="3.95" ry="4.25"/>
<ellipse cx="249.66" cy="330.60" rx="3.95" ry="4.25"/>
<ellipse cx="249.66" cy="344.40" rx="3.95" ry="4.25"/>
</g>
<line x1="316.50" y1="215.50" x2="522.80" y2="215.50" stroke="#c8c8c8" stroke-width="1"/>
<line x1="316.50" y1="231.50" x2="522.80" y2="231.50" stroke="#c0c0c0" stroke-width="1"/>
<line x1="316.50" y1="285.40" x2="522.80" y2="285.40" stroke="#c0c0c0" stroke-width="1"/>
<line x1="316.50" y1="215.50" x2="316.50" y2="338.50" stroke="#a8a8a8" stroke-width="1"/>
<line x1="316.00" y1="338.50" x2="523.40" y2="338.50" stroke="#8a8a8a" stroke-width="1.3"/>
<line x1="522.80" y1="215.50" x2="522.80" y2="338.50" stroke="#8a8a8a" stroke-width="1.3"/>
<text x="308.90" y="234.10" font-size="7" font-family="'Liberation Sans', sans-serif" fill="#222" stroke="#222" stroke-width="0.25" font-weight="bold" text-anchor="end">0.5</text>
<text x="308.90" y="288.00" font-size="7" font-family="'Liberation Sans', sans-serif" fill="#222" stroke="#222" stroke-width="0.25" font-weight="bold" text-anchor="end">0.05</text>
<text x="308.90" y="341.10" font-size="7" font-family="'Liberation Sans', sans-serif" fill="#222" stroke="#222" stroke-width="0.25" font-weight="bold" text-anchor="end">0.005</text>
<text x="316.50" y="352.90" font-size="7.2" font-family="'Liberation Sans', sans-serif" fill="#222" stroke="#222" stroke-width="0.25" font-weight="bold" text-anchor="middle">0</text>
<text x="368.00" y="352.90" font-size="7.2" font-family="'Liberation Sans', sans-serif" fill="#222" stroke="#222" stroke-width="0.25" font-weight="bold" text-anchor="middle">5</text>
<text x="419.50" y="352.90" font-size="7.2" font-family="'Liberation Sans', sans-serif" fill="#222" stroke="#222" stroke-width="0.25" font-weight="bold" text-anchor="middle">10</text>
<text x="471.00" y="352.90" font-size="7.2" font-family="'Liberation Sans', sans-serif" fill="#222" stroke="#222" stroke-width="0.25" font-weight="bold" text-anchor="middle">15</text>
<text x="522.50" y="352.90" font-size="7.2" font-family="'Liberation Sans', sans-serif" fill="#222" stroke="#222" stroke-width="0.25" font-weight="bold" text-anchor="middle">20</text>
<text x="376.40" y="361.60" font-size="8.2" font-family="'Liberation Sans', sans-serif" fill="#111" stroke="#111" stroke-width="0.25" font-weight="bold" textLength="83.40" lengthAdjust="spacingAndGlyphs">Number of simulation</text>
<text x="362.20" y="211.10" font-size="9.4" font-family="'Liberation Sans', sans-serif" fill="#111" stroke="#111" stroke-width="0.25" font-weight="bold" textLength="122.20" lengthAdjust="spacingAndGlyphs">Power vs. (W/L) variation</text>
<text x="287.20" y="326.90" font-size="8.2" font-family="'Liberation Sans', sans-serif" fill="#111" stroke="#111" stroke-width="0.25" font-weight="bold" textLength="99.40" lengthAdjust="spacingAndGlyphs" transform="rotate(-90 287.20 326.90)">logaritmic(power(µW))</text>
<text x="408.80" y="399.30" font-size="11" font-family="'Liberation Serif', serif" fill="#111" stroke="#111" stroke-width="0.2" text-anchor="middle" textLength="10.20" lengthAdjust="spacingAndGlyphs">(<tspan font-weight="bold">f</tspan>)</text>
<rect x="325.00" y="325.20" width="3.6" height="3.6" fill="#c43a3a"/>
<rect x="335.30" y="324.80" width="3.6" height="3.6" fill="#c43a3a"/>
<rect x="345.60" y="325.20" width="3.6" height="3.6" fill="#c43a3a"/>
<rect x="355.90" y="325.80" width="3.6" height="3.6" fill="#c43a3a"/>
<rect x="366.20" y="325.80" width="3.6" height="3.6" fill="#c43a3a"/>
<rect x="376.50" y="325.60" width="3.6" height="3.6" fill="#c43a3a"/>
<rect x="386.80" y="326.20" width="3.6" height="3.6" fill="#c43a3a"/>
<rect x="397.10" y="324.80" width="3.6" height="3.6" fill="#c43a3a"/>
<rect x="407.40" y="324.80" width="3.6" height="3.6" fill="#c43a3a"/>
<rect x="417.70" y="325.20" width="3.6" height="3.6" fill="#c43a3a"/>
<rect x="428.00" y="325.00" width="3.6" height="3.6" fill="#c43a3a"/>
<rect x="438.30" y="325.60" width="3.6" height="3.6" fill="#c43a3a"/>
<rect x="448.60" y="325.60" width="3.6" height="3.6" fill="#c43a3a"/>
<rect x="458.90" y="325.60" width="3.6" height="3.6" fill="#c43a3a"/>
<rect x="469.20" y="325.60" width="3.6" height="3.6" fill="#c43a3a"/>
<rect x="479.50" y="325.00" width="3.6" height="3.6" fill="#c43a3a"/>
<rect x="489.80" y="325.60" width="3.6" height="3.6" fill="#c43a3a"/>
<rect x="500.10" y="326.20" width="3.6" height="3.6" fill="#c43a3a"/>
<rect x="510.40" y="326.70" width="3.6" height="3.6" fill="#c43a3a"/>
<rect x="520.70" y="325.00" width="3.6" height="3.6" fill="#c43a3a"/>
<path d="M326.80 294.01L329.00 298.49L324.60 298.49Z" fill="#8fb650"/>
<path d="M337.10 294.21L339.30 298.69L334.90 298.69Z" fill="#8fb650"/>
<path d="M347.40 294.21L349.60 298.69L345.20 298.69Z" fill="#8fb650"/>
<path d="M357.70 294.41L359.90 298.89L355.50 298.89Z" fill="#8fb650"/>
<path d="M368.00 294.41L370.20 298.89L365.80 298.89Z" fill="#8fb650"/>
<path d="M378.30 294.21L380.50 298.69L376.10 298.69Z" fill="#8fb650"/>
<path d="M388.60 293.71L390.80 298.19L386.40 298.19Z" fill="#8fb650"/>
<path d="M398.90 294.41L401.10 298.89L396.70 298.89Z" fill="#8fb650"/>
<path d="M409.20 294.21L411.40 298.69L407.00 298.69Z" fill="#8fb650"/>
<path d="M419.50 294.21L421.70 298.69L417.30 298.69Z" fill="#8fb650"/>
<path d="M429.80 294.81L432.00 299.29L427.60 299.29Z" fill="#8fb650"/>
<path d="M440.10 294.21L442.30 298.69L437.90 298.69Z" fill="#8fb650"/>
<path d="M450.40 293.71L452.60 298.19L448.20 298.19Z" fill="#8fb650"/>
<path d="M460.70 293.71L462.90 298.19L458.50 298.19Z" fill="#8fb650"/>
<path d="M471.00 294.81L473.20 299.29L468.80 299.29Z" fill="#8fb650"/>
<path d="M481.30 294.21L483.50 298.69L479.10 298.69Z" fill="#8fb650"/>
<path d="M491.60 293.71L493.80 298.19L489.40 298.19Z" fill="#8fb650"/>
<path d="M501.90 294.41L504.10 298.89L499.70 298.89Z" fill="#8fb650"/>
<path d="M512.20 294.41L514.40 298.89L510.00 298.89Z" fill="#8fb650"/>
<path d="M522.50 294.81L524.70 299.29L520.30 299.29Z" fill="#8fb650"/>
<path d="M337.10 293.80L339.40 296.10L337.10 298.40L334.80 296.10Z" fill="#ef6a14"/>
<path d="M347.40 293.40L349.70 295.70L347.40 298.00L345.10 295.70Z" fill="#ef6a14"/>
<path d="M357.70 289.40L360.00 291.70L357.70 294.00L355.40 291.70Z" fill="#ef6a14"/>
<path d="M368.00 288.90L370.30 291.20L368.00 293.50L365.70 291.20Z" fill="#ef6a14"/>
<path d="M378.30 292.30L380.60 294.60L378.30 296.90L376.00 294.60Z" fill="#ef6a14"/>
<path d="M388.60 284.50L390.90 286.80L388.60 289.10L386.30 286.80Z" fill="#ef6a14"/>
<path d="M398.90 295.40L401.20 297.70L398.90 300.00L396.60 297.70Z" fill="#ef6a14"/>
<path d="M409.20 291.10L411.50 293.40L409.20 295.70L406.90 293.40Z" fill="#ef6a14"/>
<path d="M419.50 288.90L421.80 291.20L419.50 293.50L417.20 291.20Z" fill="#ef6a14"/>
<path d="M429.80 294.50L432.10 296.80L429.80 299.10L427.50 296.80Z" fill="#ef6a14"/>
<path d="M440.10 288.30L442.40 290.60L440.10 292.90L437.80 290.60Z" fill="#ef6a14"/>
<path d="M460.70 290.50L463.00 292.80L460.70 295.10L458.40 292.80Z" fill="#ef6a14"/>
<path d="M471.00 293.10L473.30 295.40L471.00 297.70L468.70 295.40Z" fill="#ef6a14"/>
<path d="M481.30 288.30L483.60 290.60L481.30 292.90L479.00 290.60Z" fill="#ef6a14"/>
<path d="M491.60 287.10L493.90 289.40L491.60 291.70L489.30 289.40Z" fill="#ef6a14"/>
<path d="M501.90 281.60L504.20 283.90L501.90 286.20L499.60 283.90Z" fill="#ef6a14"/>
<path d="M512.20 291.10L514.50 293.40L512.20 295.70L509.90 293.40Z" fill="#ef6a14"/>
<path d="M522.50 292.00L524.80 294.30L522.50 296.60L520.20 294.30Z" fill="#ef6a14"/>
<circle cx="337.10" cy="240.10" r="1.6" fill="#6a55a8" stroke="#4a4a4a" stroke-width="0.8"/>
<circle cx="347.40" cy="237.20" r="1.6" fill="#6a55a8" stroke="#4a4a4a" stroke-width="0.8"/>
<circle cx="357.70" cy="245.00" r="1.6" fill="#6a55a8" stroke="#4a4a4a" stroke-width="0.8"/>
<circle cx="368.00" cy="239.40" r="1.6" fill="#6a55a8" stroke="#4a4a4a" stroke-width="0.8"/>
<circle cx="378.30" cy="243.40" r="1.6" fill="#6a55a8" stroke="#4a4a4a" stroke-width="0.8"/>
<circle cx="388.60" cy="246.10" r="1.6" fill="#6a55a8" stroke="#4a4a4a" stroke-width="0.8"/>
<circle cx="398.90" cy="244.30" r="1.6" fill="#6a55a8" stroke="#4a4a4a" stroke-width="0.8"/>
<circle cx="409.20" cy="244.60" r="1.6" fill="#6a55a8" stroke="#4a4a4a" stroke-width="0.8"/>
<circle cx="419.50" cy="244.60" r="1.6" fill="#6a55a8" stroke="#4a4a4a" stroke-width="0.8"/>
<circle cx="429.80" cy="257.90" r="1.6" fill="#6a55a8" stroke="#4a4a4a" stroke-width="0.8"/>
<circle cx="440.10" cy="239.00" r="1.6" fill="#6a55a8" stroke="#4a4a4a" stroke-width="0.8"/>
<circle cx="450.40" cy="242.80" r="1.6" fill="#6a55a8" stroke="#4a4a4a" stroke-width="0.8"/>
<circle cx="460.70" cy="251.20" r="1.6" fill="#6a55a8" stroke="#4a4a4a" stroke-width="0.8"/>
<circle cx="491.60" cy="243.20" r="1.6" fill="#6a55a8" stroke="#4a4a4a" stroke-width="0.8"/>
<circle cx="501.90" cy="237.80" r="1.6" fill="#6a55a8" stroke="#4a4a4a" stroke-width="0.8"/>
<circle cx="512.20" cy="254.40" r="1.6" fill="#6a55a8" stroke="#4a4a4a" stroke-width="0.8"/>
<circle cx="522.50" cy="241.70" r="1.6" fill="#6a55a8" stroke="#4a4a4a" stroke-width="0.8"/>
<polyline points="326.80,307.40 337.10,307.40 347.40,307.00 357.70,307.00 368.00,307.00 378.30,307.20 388.60,307.00 398.90,307.00 409.20,307.40 419.50,307.00 429.80,307.00 440.10,307.30 450.40,307.30 460.70,307.30 471.00,308.00 481.30,307.30 491.60,307.30 501.90,306.50 512.20,307.60 522.50,306.30" fill="none" stroke="#4376bd" stroke-width="1.8"/>
<path d="M326.80 304.80L329.40 307.40L326.80 310.00L324.20 307.40Z" fill="#4376bd"/>
<path d="M337.10 304.80L339.70 307.40L337.10 310.00L334.50 307.40Z" fill="#4376bd"/>
<path d="M347.40 304.40L350.00 307.00L347.40 309.60L344.80 307.00Z" fill="#4376bd"/>
<path d="M357.70 304.40L360.30 307.00L357.70 309.60L355.10 307.00Z" fill="#4376bd"/>
<path d="M368.00 304.40L370.60 307.00L368.00 309.60L365.40 307.00Z" fill="#4376bd"/>
<path d="M378.30 304.60L380.90 307.20L378.30 309.80L375.70 307.20Z" fill="#4376bd"/>
<path d="M388.60 304.40L391.20 307.00L388.60 309.60L386.00 307.00Z" fill="#4376bd"/>
<path d="M398.90 304.40L401.50 307.00L398.90 309.60L396.30 307.00Z" fill="#4376bd"/>
<path d="M409.20 304.80L411.80 307.40L409.20 310.00L406.60 307.40Z" fill="#4376bd"/>
<path d="M419.50 304.40L422.10 307.00L419.50 309.60L416.90 307.00Z" fill="#4376bd"/>
<path d="M429.80 304.40L432.40 307.00L429.80 309.60L427.20 307.00Z" fill="#4376bd"/>
<path d="M440.10 304.70L442.70 307.30L440.10 309.90L437.50 307.30Z" fill="#4376bd"/>
<path d="M450.40 304.70L453.00 307.30L450.40 309.90L447.80 307.30Z" fill="#4376bd"/>
<path d="M460.70 304.70L463.30 307.30L460.70 309.90L458.10 307.30Z" fill="#4376bd"/>
<path d="M471.00 305.40L473.60 308.00L471.00 310.60L468.40 308.00Z" fill="#4376bd"/>
<path d="M481.30 304.70L483.90 307.30L481.30 309.90L478.70 307.30Z" fill="#4376bd"/>
<path d="M491.60 304.70L494.20 307.30L491.60 309.90L489.00 307.30Z" fill="#4376bd"/>
<path d="M501.90 303.90L504.50 306.50L501.90 309.10L499.30 306.50Z" fill="#4376bd"/>
<path d="M512.20 305.00L514.80 307.60L512.20 310.20L509.60 307.60Z" fill="#4376bd"/>
<path d="M522.50 303.70L525.10 306.30L522.50 308.90L519.90 306.30Z" fill="#4376bd"/>
<line x1="303.60" y1="375.70" x2="314.30" y2="375.70" stroke="#4376bd" stroke-width="1.8"/>
<path d="M309.10 373.10L311.70 375.70L309.10 378.30L306.50 375.70Z" fill="#4376bd"/>
<text x="315.90" y="378.20" font-size="8" font-family="'Liberation Sans', sans-serif" fill="#333" stroke="#333" stroke-width="0.1" textLength="54.80" lengthAdjust="spacingAndGlyphs">Proposed-Dlatch</text>
<rect x="383.00" y="373.90" width="3.6" height="3.6" fill="#c43a3a"/>
<text x="391.60" y="378.20" font-size="8" font-family="'Liberation Sans', sans-serif" fill="#333" stroke="#333" stroke-width="0.1" textLength="18.90" lengthAdjust="spacingAndGlyphs">Static</text>
<path d="M424.30 373.31L426.50 377.79L422.10 377.79Z" fill="#8fb650"/>
<text x="431.30" y="378.20" font-size="8" font-family="'Liberation Sans', sans-serif" fill="#333" stroke="#333" stroke-width="0.1" textLength="22.80" lengthAdjust="spacingAndGlyphs">TPDICE</text>
<circle cx="467.60" cy="375.70" r="1.6" fill="#6a55a8" stroke="#4a4a4a" stroke-width="0.8"/>
<text x="475.60" y="378.20" font-size="8" font-family="'Liberation Sans', sans-serif" fill="#333" stroke="#333" stroke-width="0.1" textLength="15.30" lengthAdjust="spacingAndGlyphs">DICE</text>
<path d="M504.60 373.40L506.90 375.70L504.60 378.00L502.30 375.70Z" fill="#ef6a14"/>
<text x="511.60" y="378.20" font-size="8" font-family="'Liberation Sans', sans-serif" fill="#333" stroke="#333" stroke-width="0.1" textLength="22.30" lengthAdjust="spacingAndGlyphs">LSEH-1</text>
</svg>
</body></html>
